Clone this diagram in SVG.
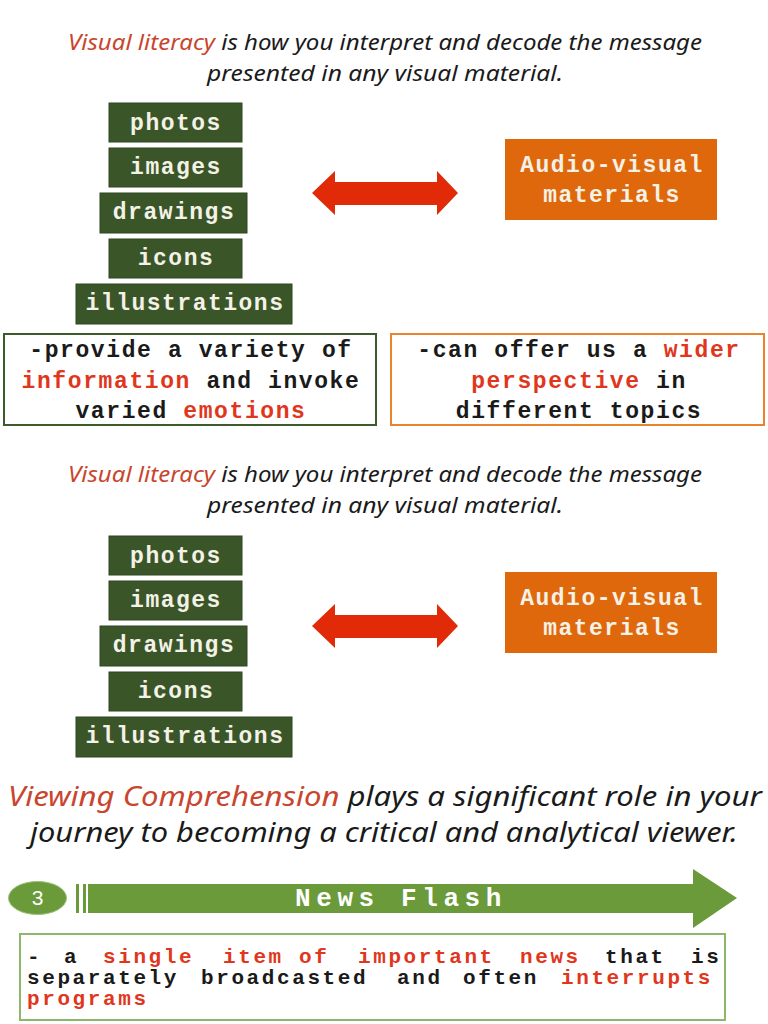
<svg xmlns="http://www.w3.org/2000/svg" width="768" height="1024" viewBox="0 0 768 1024">
<style>
.hand{font-family:"Noto Sans","DejaVu Sans",sans-serif;font-style:italic;fill:#1a1a1a}
.hred{fill:#c9462e}
.box{fill:#3a5528;stroke:#2f4720;stroke-width:1}
.lbl{font-family:"Liberation Mono","Courier New",monospace;font-weight:bold;font-size:23px;letter-spacing:1.5px;fill:#f4f1e6;text-anchor:middle}
.av{fill:#e0680c}
.desc{font-family:"Liberation Mono","Courier New",monospace;font-weight:bold;font-size:23px;letter-spacing:1.6px;fill:#1a1a1a;text-anchor:middle}
.dbl{fill:#e02a08}
.nf{fill:#6a9a3a}
.body{font-family:"Liberation Mono","Courier New",monospace;font-weight:bold;font-size:21px;letter-spacing:2.6px;fill:#1a1a1a}
.red{fill:#e0361c}
</style>
<rect width="768" height="1024" fill="#ffffff"/>

<!-- Section 1 -->
<g id="title1">
<text class="hand" x="68" y="50" font-size="22" textLength="634" lengthAdjust="spacingAndGlyphs"><tspan class="hred">Visual literacy</tspan> is how you interpret and decode the message</text>
<text class="hand" x="207" y="81" font-size="22" textLength="356" lengthAdjust="spacingAndGlyphs">presented in any visual material.</text>
</g>
<g id="photos1"><rect class="box" x="109" y="103" width="133" height="39"/><text class="lbl" x="176" y="130">photos</text></g>
<g id="images1"><rect class="box" x="109" y="148" width="133" height="39"/><text class="lbl" x="176" y="174">images</text></g>
<g id="drawings1"><rect class="box" x="100" y="193" width="147" height="40"/><text class="lbl" x="174" y="219">drawings</text></g>
<g id="icons1"><rect class="box" x="109" y="239" width="133" height="39"/><text class="lbl" x="176" y="265">icons</text></g>
<g id="illustrations1"><rect class="box" x="76" y="284" width="216" height="40"/><text class="lbl" x="185" y="310">illustrations</text></g>
<g id="audiovisual1"><rect class="av" x="505" y="139" width="212" height="81"/><text class="lbl" x="612" y="172">Audio-visual</text><text class="lbl" x="612" y="202">materials</text></g>
<g id="desc-left">
<rect x="4" y="334" width="372" height="91" fill="#ffffff" stroke="#3d5a2a" stroke-width="2"/>
<text class="desc" x="191" y="357">-provide a variety of</text>
<text class="desc" x="191" y="388"><tspan class="red">information</tspan> and invoke</text>
<text class="desc" x="191" y="418">varied <tspan class="red">emotions</tspan></text>
</g>
<g id="desc-right">
<rect x="391" y="334" width="373" height="91" fill="#ffffff" stroke="#e8832f" stroke-width="2"/>
<text class="desc" x="579" y="357">-can offer us a <tspan class="red">wider</tspan></text>
<text class="desc" x="579" y="388"><tspan class="red">perspective</tspan> in</text>
<text class="desc" x="579" y="418">different topics</text>
</g>

<!-- Section 2 -->
<g id="title2">
<text class="hand" x="68" y="482" font-size="22" textLength="634" lengthAdjust="spacingAndGlyphs"><tspan class="hred">Visual literacy</tspan> is how you interpret and decode the message</text>
<text class="hand" x="207" y="513" font-size="22" textLength="356" lengthAdjust="spacingAndGlyphs">presented in any visual material.</text>
</g>
<g id="photos2"><rect class="box" x="109" y="536" width="133" height="39"/><text class="lbl" x="176" y="563">photos</text></g>
<g id="images2"><rect class="box" x="109" y="581" width="133" height="39"/><text class="lbl" x="176" y="607">images</text></g>
<g id="drawings2"><rect class="box" x="100" y="626" width="147" height="40"/><text class="lbl" x="174" y="652">drawings</text></g>
<g id="icons2"><rect class="box" x="109" y="672" width="133" height="39"/><text class="lbl" x="176" y="698">icons</text></g>
<g id="illustrations2"><rect class="box" x="76" y="717" width="216" height="40"/><text class="lbl" x="185" y="743">illustrations</text></g>
<g id="audiovisual2"><rect class="av" x="505" y="572" width="212" height="81"/><text class="lbl" x="612" y="605">Audio-visual</text><text class="lbl" x="612" y="635">materials</text></g>

<!-- connectors -->
<g id="connectors">
<polygon class="dbl" points="312,193 335,171 335,182 437,182 437,171 458,193 437,215 437,205 335,205 335,215"/>
<polygon class="dbl" points="312,626 335,604 335,615 437,615 437,604 458,626 437,648 437,638 335,638 335,648"/>
</g>

<g id="viewing">
<text class="hand" x="8" y="806" font-size="28" textLength="754" lengthAdjust="spacingAndGlyphs"><tspan class="hred">Viewing Comprehension</tspan> plays a significant role in your</text>
<text class="hand" x="30" y="842" font-size="28" textLength="708" lengthAdjust="spacingAndGlyphs">journey to becoming a critical and analytical viewer.</text>
</g>

<g id="newsflash">
<ellipse class="nf" cx="37.5" cy="898" rx="29" ry="16.5" stroke="#9cc27a" stroke-width="1"/>
<text x="37.5" y="905" font-family="Liberation Sans, Arial, sans-serif" font-size="21" fill="#ffffff" text-anchor="middle">3</text>
<rect class="nf" x="76" y="884" width="3" height="29"/>
<rect class="nf" x="83" y="884" width="3" height="29"/>
<polygon class="nf" points="88,884 693,884 693,869 737,898 693,928 693,913 88,913"/>
<text x="295" y="906" font-family="Liberation Mono, Courier New, monospace" font-weight="bold" font-size="26" letter-spacing="5.6" fill="#ffffff">News Flash</text>
</g>

<g id="newsbody">
<rect x="20" y="934" width="705" height="86" fill="#ffffff" stroke="#8db86a" stroke-width="2"/>
<text class="body" y="963"><tspan x="27">-</tspan><tspan x="64">a</tspan><tspan class="red" x="103">single</tspan><tspan class="red" x="223">item</tspan><tspan class="red" x="299">of</tspan><tspan class="red" x="358">important</tspan><tspan class="red" x="520">news</tspan><tspan x="605">that</tspan><tspan x="691">is</tspan></text>
<text class="body" y="984"><tspan x="27">separately</tspan><tspan x="201">broadcasted</tspan><tspan x="397">and</tspan><tspan x="463">often</tspan><tspan class="red" x="561">interrupts</tspan></text>
<text class="body" x="27" y="1005" fill="#e0361c" style="fill:#e0361c">programs</text>
</g>
</svg>
